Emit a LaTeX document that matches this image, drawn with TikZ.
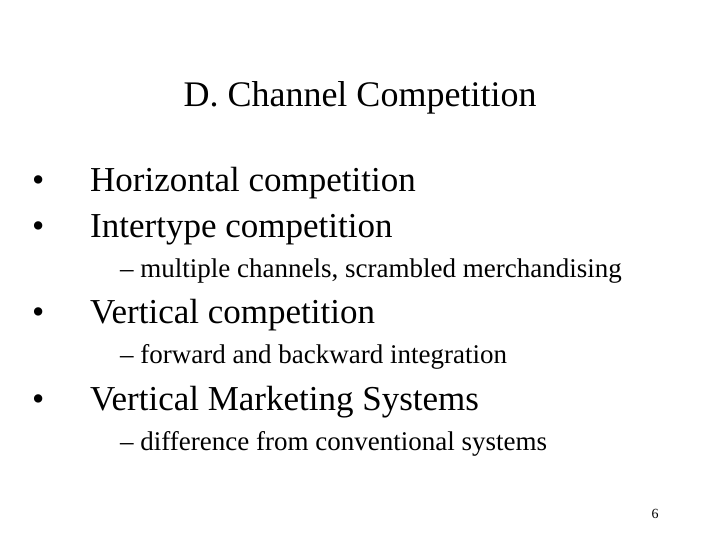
\documentclass[tikz,border=0pt]{standalone}
\usepackage{fontspec}
\setmainfont{Liberation Serif}
\begin{document}
\begin{tikzpicture}[x=1pt,y=-1pt,
  title/.style={font=\fontsize{36}{40}\selectfont, anchor=base},
  lvl/.style={font=\fontsize{35}{40}\selectfont, anchor=base west, inner sep=0},
  sub/.style={font=\fontsize{27}{31}\selectfont, anchor=base west, inner sep=0}]
\useasboundingbox (0,0) rectangle (720,540);
\node[title] (t) at (360,107) {D. Channel Competition};
\node[lvl] (d1) at (32,192) {•};
\node[lvl] (b1) at (90,192) {Horizontal competition};
\node[lvl] (d2) at (32,237) {•};
\node[lvl] (b2) at (90,237) {Intertype competition};
\node[sub] (s1) at (120,277) {– multiple channels, scrambled merchandising};
\node[lvl] (d3) at (32,323) {•};
\node[lvl] (b3) at (90,323) {Vertical competition};
\node[sub] (s2) at (120,363) {– forward and backward integration};
\node[lvl] (d4) at (32,410) {•};
\node[lvl] (b4) at (90,410) {Vertical Marketing Systems};
\node[sub] (s3) at (120,450) {– difference from conventional systems};
\node[font=\fontsize{14}{16}\selectfont, anchor=base, inner sep=0] (n) at (655,518) {6};
\end{tikzpicture}
\end{document}
